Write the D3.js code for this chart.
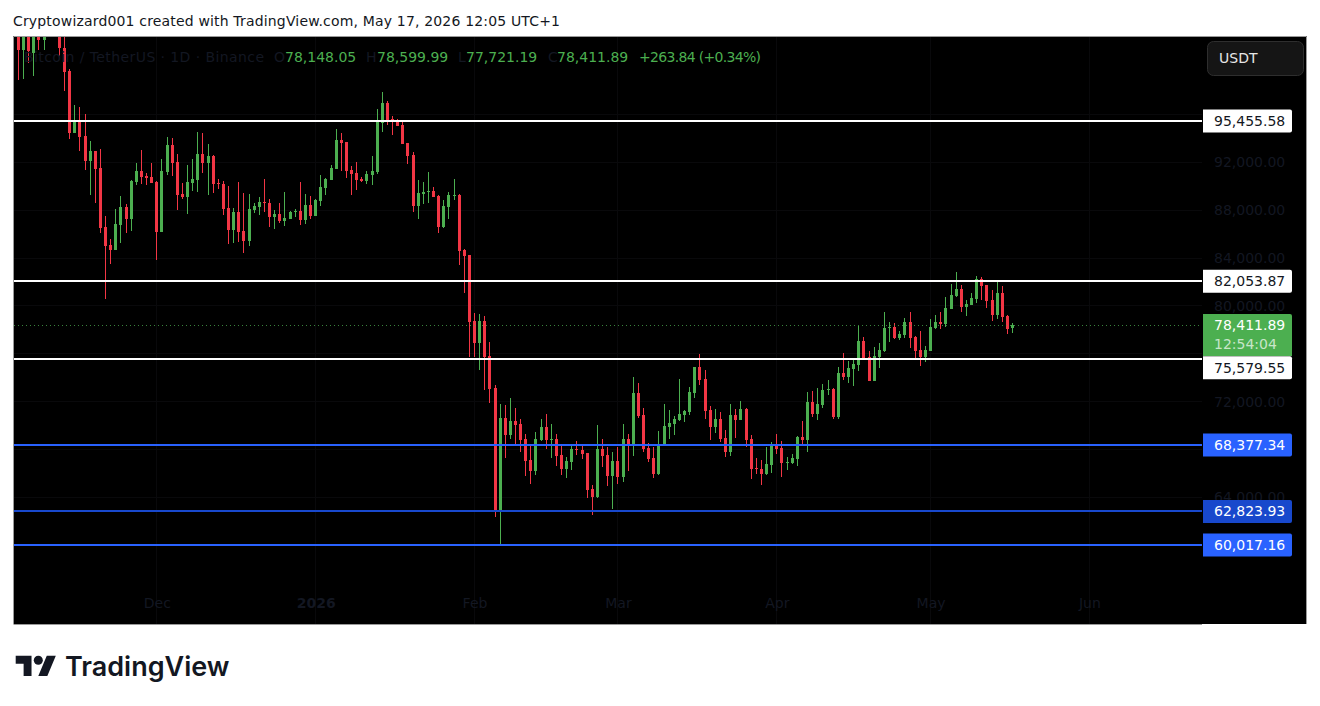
<!DOCTYPE html>
<html lang="en">
<head>
<meta charset="UTF-8">
<title>BTCUSDT 1D - TradingView snapshot</title>
<script src="https://d3js.org/d3.v7.min.js"></script>
<style>
    html, body { margin: 0; padding: 0; background: #fff; overflow: hidden; }
    svg { display: block; }
    text { font-family: "DejaVu Sans", sans-serif; }
    .axis text { fill: #131722; font-size: 14px; font-family: "DejaVu Sans", sans-serif; }
</style>
</head>
<body>
<svg width="1320" height="706"></svg>
<script>
const startDay = "2025-11-04";

const opens = [
106500,101390,103900,101110,103300,102220,104700,106000,103000,101580,
99630,94450,95540,94200,92110,92950,91530,86590,85090,84670,
86760,88270,87260,90360,91270,90860,90770,90360,86180,91190,
93450,92030,89350,89100,90270,90520,92700,91940,92530,90270,
90190,88180,86340,87850,86260,85425,88020,88270,88690,88600,
87430,87680,87100,87265,87850,87930,87180,88435,87516,88770,
89860,90525,91445,93870,93700,91360,91110,90610,90440,90940,
91190,95290,96960,95620,95540,95120,93620,92615,88350,89355,
89520,89605,89190,86600,88270,89190,89270,84675,84255,78740,
76900,78740,75815,73140,62860,70630,69210,70380,70130,68880,
67120,66200,68795,69880,68795,68880,67540,66370,66955,68040,
67960,67705,64700,64030,68040,67540,65785,67040,65700,68880,
68290,72720,70880,68125,67290,65950,68375,69880,70130,70465,
70880,71135,72720,74895,73890,71300,69880,70550,68960,67790,
70883,70465,71385,68877,66453,66370,65950,66704,68293,68125,
66870,66870,67205,69045,68794,71970,70965,71720,72973,73056,
70715,74393,74059,74728,75062,77068,75731,73725,75731,76232,
78155,78238,77319,77569,78656,77402,76316,75731,76232,78155,
78656,78489,79743,80829,81414,79910,80077,80578,82250,81749,
80495,79241,81080,79158,78148.05];

const highs = [
106900,104500,104200,104000,103400,104800,106600,107400,105300,103000,
99800,96790,96620,96040,93780,92950,93110,87510,85590,88100,
89190,88520,90520,91940,93030,91110,91940,90440,92280,94120,
94030,92700,90270,91780,92280,94530,94450,93530,92610,90610,
90440,90020,88180,90360,89440,89350,88600,89100,90610,88940,
88020,88600,89520,87930,88100,90360,89355,89190,88940,90940,
90690,91780,94790,94450,93700,91695,92030,90775,91280,92530,
96460,97880,97130,95875,95620,95540,93620,92865,90525,90360,
91190,89940,89270,88850,89520,90610,89355,84760,84255,79410,
79325,79160,76985,73390,71800,71720,72300,71470,70550,69295,
68460,69460,70550,70965,70130,69295,68460,67370,68375,68710,
68290,67705,65030,70050,68880,68210,67790,68210,70130,69295,
74060,73560,71470,68540,68210,69545,71800,71300,70800,73890,
71300,73225,74895,75980,74645,71635,71385,71135,69630,71800,
71385,72055,71470,69210,67290,67120,68210,68627,69295,68710,
67370,67625,69128,70380,72805,72890,73140,73475,73808,73140,
74895,76065,75396,75564,78322,77402,76232,76567,76901,79492,
78656,78572,77904,78990,79492,77486,77904,76650,78907,79241,
79492,80745,81832,82835,81749,80495,81080,82501,82417,81749,
81330,82083,81665,79241,78599.99];

const lows = [
98880,98960,100270,99215,101390,101390,104200,102450,100890,97960,
93950,94450,92950,91330,89270,88600,86090,80580,83500,84670,
85260,86090,86260,90100,90190,90100,90270,83840,86180,90940,
90860,88020,88935,87680,89600,89520,91110,89270,89440,89770,
87600,85170,85260,85340,84420,85010,87765,87600,87850,86600,
86430,86930,86680,87265,87430,86760,86850,87265,87516,88350,
89270,90525,91445,91280,90690,89270,89690,90360,90190,90110,
91025,94540,95120,94285,95040,93535,91860,87850,87265,88520,
88600,89105,86095,86510,87265,88850,83420,81080,75730,75730,
74645,72970,71885,62360,60020,67290,68880,68290,67790,65785,
65115,65870,68710,68040,67290,66620,65870,65615,66285,67540,
67205,63945,62525,63945,66535,64950,63025,65115,65280,66200,
67455,70630,67790,66955,65615,65870,68375,68880,69210,70380,
70300,70880,72300,73390,70550,68795,69380,68625,67370,67456,
68960,70465,68210,65535,65950,65032,65870,66035,67625,65700,
66285,66788,66620,68293,67790,70715,70465,71470,72555,70550,
70550,73808,73558,73307,74560,75480,73725,73725,74811,76149,
76984,77235,77152,77319,76483,75647,74978,75313,76232,78071,
78071,78238,79743,80745,79492,79158,80077,80244,80495,79826,
78740,78907,78656,77653,77721.19];

const closes = [
101390,103900,101300,103300,102220,104700,106000,103000,101580,99550,
94450,95540,94120,92110,92950,91440,86510,85010,84670,86850,
88270,87260,90440,91270,90770,90690,90270,86180,91270,93450,
91940,89270,89100,90360,90610,92700,91940,92530,90190,90190,
88100,86340,87850,86180,85425,88100,88350,88680,88600,87430,
87680,87100,87350,87850,87930,87180,88435,87516,88850,89940,
90610,91530,93870,93620,91280,91025,90525,90440,91025,91280,
95455,96960,95455,95540,95040,93535,92530,88350,89440,89520,
89605,89105,86600,88350,89270,89270,84590,84170,78660,76900,
78740,75730,73055,62860,70630,69210,70380,70050,68795,67040,
66200,68880,69880,68795,68880,67455,66370,67040,68040,67960,
67625,64615,64030,68040,67455,65785,67040,65700,68880,68290,
72720,70800,68040,67205,65950,68460,69965,70215,70550,70965,
71220,72805,74895,73810,71220,69880,70550,68880,67790,70883,
70465,71385,68794,66370,66370,65950,66788,68293,68042,66870,
66955,67290,69045,68794,71970,70965,71800,72973,73056,70715,
74393,74059,74811,75146,77068,75647,73725,75814,76316,78155,
78238,77319,77653,78656,77319,76232,75731,76316,78238,78656,
78489,79826,80913,81414,79910,80160,80662,82250,81665,80411,
79241,81080,79074,78071,78411.89];

// horizontal levels drawn on the chart
const whiteLevels = [95455.58, 82053.87, 75579.55];
const blueLevels = [68377.34, 62823.93, 60017.16];
const lastPrice = 78411.89;
const countdown = "12:54:04";

// the other round ticks sit behind the level tags, only these can be read
const priceLabels = [92000, 88000, 84000, 80000, 72000, 64000];
const gridPrices = [96000, 92000, 88000, 84000, 80000, 76000, 72000, 68000, 64000, 60000];
const monthTicks = ["2025-12-01", "2026-01-01", "2026-02-01", "2026-03-01", "2026-04-01", "2026-05-01", "2026-06-01"];
const monthNames = ["Dec", "2026", "Feb", "Mar", "Apr", "May", "Jun"];

const legendParts = [
    ["Bitcoin / TetherUS · 1D · Binance", 24, "#131722", 240],
    ["O", 274, "#131722"], ["78,148.05", 285, "#4caf50"],
    ["H", 366, "#131722"], ["78,599.99", 377, "#4caf50"],
    ["L", 458, "#131722"], ["77,721.19", 466, "#4caf50"],
    ["C", 548, "#131722"], ["78,411.89", 557, "#4caf50"],
    ["+263.84 (+0.34%)", 639, "#4caf50", 122]
];

const up = "#4caf50", down = "#f23645", blue = "#2962ff", blueDim = "#1848cc";

const parseDay = d3.utcParse("%Y-%m-%d");
const days = closes.map((_, i) => d3.utcDay.offset(parseDay(startDay), i));
const fmt = d3.format(",.2f");

const svg = d3.select("svg");

// frame
const plotL = 14, plotR = 1202, plotT = 37, plotB = 624, frameR = 1306;
svg.append("rect").attr("x", 13).attr("y", 36).attr("width", frameR - 13 + 1).attr("height", plotB - 36)
    .attr("fill", "#000");
svg.append("path").attr("d", `M13.5 ${plotB}V36.5H${frameR + .5}V${plotB}M13.5 ${plotB + .5}H${plotR}`)
    .attr("fill", "none").attr("stroke", "#9a9a9a").attr("stroke-width", 1);

const x = d3.scaleUtc().domain([days[0], days[days.length - 1]]).range([18.5, 1012.5]);
const y = d3.scaleLinear().domain([60017.16, 95455.58]).range([545, 121]);
const cx = d => Math.floor(x(d)) + .5;

svg.append("clipPath").attr("id", "plot").append("rect")
    .attr("x", plotL).attr("y", plotT).attr("width", plotR - plotL).attr("height", plotB - plotT);

// faint grid
const grid = svg.append("g").attr("stroke", "#09090b").attr("shape-rendering", "crispEdges");
grid.selectAll(".h").data(gridPrices).join("line").attr("class", "h")
    .attr("x1", plotL).attr("x2", plotR).attr("y1", d => y(d)).attr("y2", d => y(d));
grid.selectAll(".v").data(monthTicks).join("line").attr("class", "v")
    .attr("y1", plotT).attr("y2", plotB).attr("x1", d => x(parseDay(d))).attr("x2", d => x(parseDay(d)));

// price axis text
const yAxis = svg.append("g").attr("class", "axis").attr("transform", "translate(1214,0)")
    .call(d3.axisRight(y).tickValues(priceLabels).tickSize(0).tickPadding(0).tickFormat(fmt));
yAxis.select(".domain").remove();

// time axis text
const xAxis = svg.append("g").attr("class", "axis").attr("transform", "translate(0,598)")
    .call(d3.axisBottom(x).tickValues(monthTicks.map(parseDay)).tickSize(0).tickPadding(0)
        .tickFormat((d, i) => monthNames[i]));
xAxis.select(".domain").remove();
xAxis.selectAll("text").style("font-weight", (d, i) => monthNames[i] === "2026" ? "bold" : null);

// candles
const plot = svg.append("g").attr("clip-path", "url(#plot)");
const candles = plot.selectAll("g.candle").data(d3.range(closes.length)).join("g").attr("class", "candle")
    .attr("shape-rendering", "crispEdges")
    .attr("fill", i => closes[i] >= opens[i] ? up : down)
    .attr("stroke", "none");
candles.append("rect")
    .attr("x", i => cx(days[i]) - .5).attr("width", 1)
    .attr("y", i => Math.round(y(highs[i])))
    .attr("height", i => Math.max(1, Math.round(y(lows[i])) - Math.round(y(highs[i]))));
candles.append("rect")
    .attr("x", i => cx(days[i]) - 1.5).attr("width", 3)
    .attr("y", i => Math.round(y(Math.max(opens[i], closes[i]))))
    .attr("height", i => Math.max(1, Math.round(y(Math.min(opens[i], closes[i]))) - Math.round(y(Math.max(opens[i], closes[i])))));

// last price dotted line
svg.append("line").attr("x1", plotL).attr("x2", plotR).attr("y1", Math.round(y(lastPrice)) + .5).attr("y2", Math.round(y(lastPrice)) + .5)
    .attr("stroke", up).attr("stroke-opacity", .75).attr("stroke-dasharray", "1 3");

// level lines
const drawLevel = (p, col) => svg.append("rect").attr("x", plotL).attr("width", plotR - plotL)
    .attr("y", Math.round(y(p)) - 1).attr("height", 2).attr("fill", col).attr("shape-rendering", "crispEdges");
whiteLevels.forEach(p => drawLevel(p, "#fff"));
blueLevels.forEach(p => drawLevel(p, p === 62823.93 ? blueDim : blue));

// legend on top of the candles
const legend = svg.append("g").attr("font-size", 14);
legend.selectAll("text").data(legendParts).join("text")
    .attr("x", d => d[1]).attr("y", 62).attr("fill", d => d[2])
    .attr("textLength", d => d[3] || null).attr("lengthAdjust", "spacing").text(d => d[0]);

// right side labels
const tag = (cy, col, txt, txtCol) => {
    svg.append("path").attr("fill", col)
        .attr("d", `M1203 ${cy - 11.5}H1290a2 2 0 0 1 2 2V${cy + 9.5}a2 2 0 0 1 -2 2H1203Z`);
    svg.append("text").attr("x", 1214).attr("y", cy + 5).attr("font-size", 14).attr("fill", txtCol).text(txt);
};
tag(y(95455.58), "#fff", fmt(95455.58), "#131722");
tag(y(82053.87), "#fff", fmt(82053.87), "#131722");
tag(y(75579.55) + 9, "#fff", fmt(75579.55), "#131722"); // pushed down by the price tag
tag(y(68377.34), blue, fmt(68377.34), "#fff");
tag(y(62823.93), blueDim, fmt(62823.93), "#fff");
tag(y(60017.16), blue, fmt(60017.16), "#fff");

const ly = y(lastPrice);
svg.append("path").attr("fill", up)
    .attr("d", `M1203 ${ly - 11}H1290a2 2 0 0 1 2 2V${ly + 31}H1203Z`);
svg.append("text").attr("x", 1214).attr("y", ly + 5).attr("font-size", 14).attr("fill", "#fff").text(fmt(lastPrice));
svg.append("text").attr("x", 1214).attr("y", ly + 24).attr("font-size", 14).attr("fill", "#fff").attr("fill-opacity", .7).text(countdown);

// currency button
svg.append("rect").attr("x", 1207.5).attr("y", 41.5).attr("width", 96).attr("height", 34).attr("rx", 6)
    .attr("fill", "#151515").attr("stroke", "#2e2e2e");
svg.append("text").attr("x", 1219).attr("y", 63).attr("font-size", 14).attr("fill", "#e6e6e6").text("USDT");

// header
svg.append("text").attr("x", 13).attr("y", 26).attr("font-size", 14).attr("fill", "#131722")
    .attr("textLength", 547).attr("lengthAdjust", "spacing")
    .text("Cryptowizard001 created with TradingView.com, May 17, 2026 12:05 UTC+1");

// logo
const logo = svg.append("g").attr("fill", "#131722");
logo.append("g").attr("transform", "translate(15.7,651.2) scale(1.13)")
    .call(g => g.append("path").attr("d", "M14 22H7V11H0V4h14v18zM28 22h-8l7.5-18h8L28 22z"))
    .call(g => g.append("circle").attr("cx", 20).attr("cy", 8).attr("r", 4));
logo.append("text").attr("x", 65).attr("y", 675.5).attr("font-size", 27).attr("font-weight", 600)
    .style("font-family", "Inter, sans-serif").text("TradingView");
</script>
</body>
</html>
